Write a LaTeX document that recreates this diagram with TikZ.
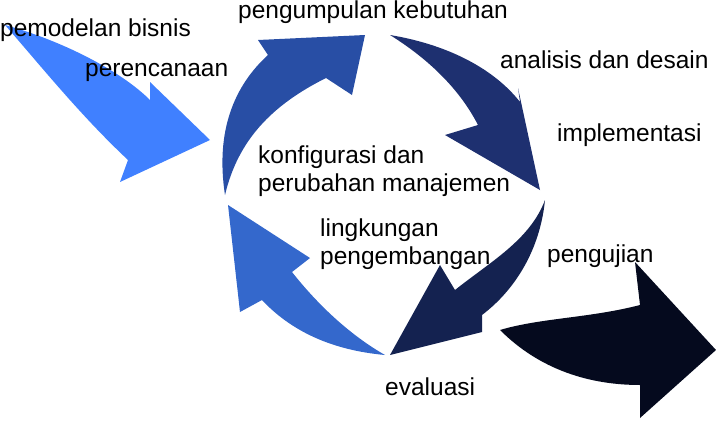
\documentclass[tikz,border=0pt]{standalone}
\usepackage{fontspec}
\setmainfont{Liberation Sans}
\begin{document}
\begin{tikzpicture}[x=1pt,y=-1pt,
  lbl/.style={anchor=west,inner sep=0pt,font=\fontsize{24.5}{28}\selectfont},
  arr/.style={draw=none}]
\useasboundingbox (0,0) rectangle (716,421);
% arrow 1
\fill[arr,fill={rgb,255:red,64;green,128;blue,255}]
  (5,25) .. controls (60,40) and (120,70) .. (150,100) -- (150,82) -- (210,140) -- (120,182) -- (128,160)
  .. controls (80,115) and (40,65) .. (5,25) -- cycle;
% arrow 2
\fill[arr,fill={rgb,255:red,40;green,78;blue,165}]
  (225,195) .. controls (215,130) and (235,85) .. (268,55) -- (258,40) -- (365,35) -- (352,95) -- (326,78)
  .. controls (272,105) and (238,140) .. (225,195) -- cycle;
% arrow 3
\fill[arr,fill={rgb,255:red,30;green,48;blue,112}]
  (390,35) .. controls (450,45) and (495,70) .. (520,102) -- (518,88) -- (540,190) -- (445,135) -- (478,125)
  .. controls (460,90) and (430,60) .. (390,35) -- cycle;
% arrow 4
\fill[arr,fill={rgb,255:red,20;green,34;blue,80}]
  (545,200) .. controls (540,250) and (515,290) .. (482,315) -- (482,332) -- (390,355) -- (440,265) -- (455,290)
  .. controls (490,262) and (530,240) .. (545,200) -- cycle;
% arrow 5
\fill[arr,fill={rgb,255:red,52;green,104;blue,204}]
  (385,355) .. controls (330,350) and (290,330) .. (262,300) -- (240,312) -- (228,205) -- (310,258) -- (292,272)
  .. controls (318,305) and (350,335) .. (385,355) -- cycle;
% arrow 6
\fill[arr,fill={rgb,255:red,5;green,10;blue,30}]
  (500,330) .. controls (540,370) and (590,385) .. (640,385) -- (640,418) -- (716,350) -- (635,262) -- (640,305)
  .. controls (590,318) and (540,318) .. (500,330) -- cycle;
% labels
\node[lbl] (t1) at (0,30) {pemodelan bisnis};
\node[lbl] (t2) at (85,72) {perencanaan};
\node[lbl] (t3) at (238,12) {pengumpulan kebutuhan};
\node[lbl] (t4) at (500,60) {analisis dan desain};
\node[lbl] (t5) at (557,135) {implementasi};
\node[lbl] (t6) at (258,157) {konfigurasi dan};
\node[lbl] (t7) at (258,185) {perubahan manajemen};
\node[lbl] (t8) at (320,230) {lingkungan};
\node[lbl] (t9) at (320,258) {pengembangan};
\node[lbl] (t10) at (547,256) {pengujian};
\node[lbl] (t11) at (385,387) {evaluasi};
\end{tikzpicture}
\end{document}
